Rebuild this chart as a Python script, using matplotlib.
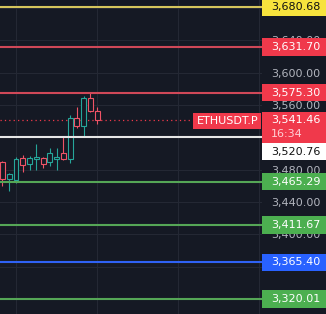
import matplotlib
matplotlib.use('Agg')
import matplotlib.pyplot as plt
import matplotlib.transforms as mtransforms
from matplotlib.patches import Rectangle
from matplotlib.ticker import FuncFormatter

# candles (5m), oldest first
opens = [3490, 3468, 3467, 3494, 3487, 3493, 3494, 3489, 3493, 3500, 3493, 3544, 3534, 3568, 3552]
highs = [3491, 3476, 3496, 3498, 3497, 3512, 3496, 3507, 3507, 3520, 3548, 3557, 3571, 3575, 3558]
lows = [3460, 3453, 3463, 3477, 3480, 3480, 3482, 3485, 3479, 3492, 3488, 3532, 3521, 3551, 3537]
closes = [3469, 3475, 3493, 3486, 3494, 3495, 3487, 3500, 3495, 3493, 3544, 3534, 3568, 3552, 3541.46]

levels = [3680.68, 3631.70, 3575.30, 3520.76, 3465.29, 3411.67, 3365.40, 3320.01]
line_colors = ['#d6c65c', '#d04858', '#d04858', '#e6e6e6', '#55a656', '#55a656', '#2f62f5', '#55a656']
box_colors = ['#f7e33d', '#f0394b', '#f0394b', '#ffffff', '#4caf50', '#4caf50', '#2962ff', '#4caf50']
text_colors = ['#111111', '#ffffff', '#ffffff', '#111111', '#ffffff', '#ffffff', '#ffffff', '#ffffff']
label_shift = [0, 0, 0, -18.4, 0, 0, 0, 0]  # white label is pushed under the price label

symbol = 'ETHUSDT.P'
countdown = '16:34'
last_price = closes[-1]

price_ticks = list(range(3320, 3681, 40))
hidden_ticks = {3320, 3360, 3520, 3680}  # fully covered by the level labels

BG = '#151924'
UP = '#26a69a'
DOWN = '#ef5366'

fig = plt.figure(figsize=(3.26, 3.14), dpi=100, facecolor=BG)
ax = fig.add_axes([0, 0, 262 / 326, 1])
ax.set_facecolor(BG)

ax.set_xlim(-0.37, 38.44)
ax.set_ylim(3301.5, 3689.7)

# grid
ax.set_xticks([2, 14, 26, 38])
ax.set_yticks(price_ticks)
ax.grid(True, color='#242834', linewidth=0.8)
ax.set_axisbelow(True)
ax.tick_params(axis='x', length=0, labelbottom=False)
ax.yaxis.tick_right()
ax.tick_params(axis='y', length=0, pad=6.5, labelsize=8, labelcolor='#b2b5be')
ax.yaxis.set_major_formatter(
    FuncFormatter(lambda v, p: '' if round(v) in hidden_ticks else f'{v:,.2f}'))
for s in ax.spines.values():
    s.set_visible(False)

# candles, hollow bodies
w = 0.74
for i, (o, h, l, c) in enumerate(zip(opens, highs, lows, closes)):
    col = UP if c >= o else DOWN
    lo, hi = min(o, c), max(o, c)
    ax.vlines(i, l, lo, color=col, linewidth=0.8, zorder=3)
    ax.vlines(i, hi, h, color=col, linewidth=0.8, zorder=3)
    ax.add_patch(Rectangle((i - w / 2, lo), w, max(hi - lo, 0.8), facecolor=BG,
                           edgecolor=col, linewidth=0.8, zorder=3))

# horizontal levels
for v, lc in zip(levels, line_colors):
    ax.axhline(v, color=lc, linewidth=1.5, zorder=4)

# current price dotted line
ax.axhline(last_price, color='#f0394b', linewidth=0.9, linestyle=(0, (1, 2.5)), zorder=2)

trans = mtransforms.blended_transform_factory(ax.transAxes, ax.transData)
px = 1 / 0.8088  # price units per pixel
box_w = 64 / 262
txt_x = 1 + 9 / 262

for v, bc, tc, sh in zip(levels, box_colors, text_colors, label_shift):
    y = v + sh
    ax.add_patch(Rectangle((1, y - 8.8 * px), box_w, 17.6 * px, transform=trans,
                           facecolor=bc, edgecolor='none', clip_on=False, zorder=6))
    ax.text(txt_x, y, f'{v:,.2f}', transform=trans, color=tc, fontsize=8,
            ha='left', va='center', clip_on=False, zorder=7)

# last price label with countdown
ax.add_patch(Rectangle((1, last_price - 23 * px), box_w, 31 * px, transform=trans,
                       facecolor='#f0394b', edgecolor='none', clip_on=False, zorder=8))
ax.text(txt_x, last_price, f'{last_price:,.2f}', transform=trans, color='#ffffff',
        fontsize=8, ha='left', va='center', clip_on=False, zorder=9)
ax.text(txt_x, last_price - 14 * px, countdown, transform=trans, color='#ffd0d5',
        fontsize=8, ha='left', va='center', clip_on=False, zorder=9)

# symbol tag
ax.text(1 - 4 / 262, last_price - 1 * px, symbol, transform=trans, color='#ffffff',
        fontsize=8, ha='right', va='center', zorder=9,
        bbox=dict(boxstyle='square,pad=0.3', facecolor='#f0394b', edgecolor='none'))

fig.savefig('out.png', dpi=100, facecolor=BG)
